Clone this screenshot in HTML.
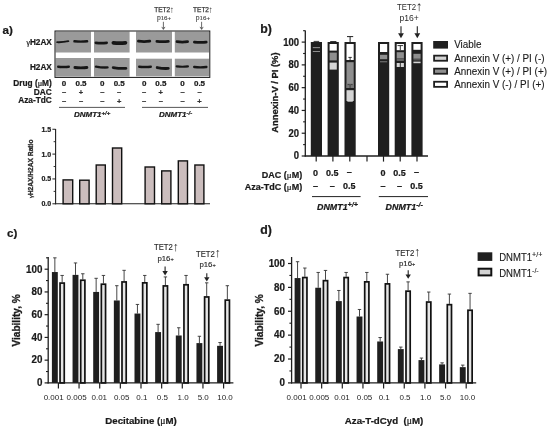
<!DOCTYPE html>
<html lang="en">
<head>
<meta charset="utf-8">
<title>Figure</title>
<style>
html,body{margin:0;padding:0;background:#ffffff;}
body{width:550px;height:431px;overflow:hidden;}
svg{display:block;font-family:"Liberation Sans","DejaVu Sans",sans-serif;}
</style>
</head>
<body>
<svg width="550" height="431" viewBox="0 0 550 431">
<defs>
<filter id="bl" filterUnits="userSpaceOnUse" x="0" y="0" width="550" height="431"><feGaussianBlur stdDeviation="0.4"/></filter>
</defs>
<rect x="0" y="0" width="550" height="431" fill="#ffffff"/>
<text x="2.50" y="34.00" font-size="11.6" font-weight="bold" font-style="normal" text-anchor="start" fill="#1a1a1a" stroke="#1a1a1a" stroke-width="0.22">a)</text>
<rect x="55.00" y="31.00" width="154.80" height="46.40" fill="#ffffff"/>
<rect x="55.60" y="31.60" width="35.40" height="20.90" fill="#9a9a9a"/>
<rect x="55.60" y="58.00" width="35.40" height="18.60" fill="#9a9a9a"/>
<rect x="94.00" y="31.60" width="35.60" height="20.90" fill="#9a9a9a"/>
<rect x="94.00" y="58.00" width="35.60" height="18.60" fill="#9a9a9a"/>
<rect x="136.00" y="31.60" width="36.00" height="20.90" fill="#9a9a9a"/>
<rect x="136.00" y="58.70" width="36.00" height="17.60" fill="#9a9a9a"/>
<rect x="174.80" y="31.60" width="34.40" height="20.90" fill="#9a9a9a"/>
<rect x="174.80" y="58.70" width="34.40" height="17.60" fill="#9a9a9a"/>
<rect x="55" y="31" width="154.8" height="46.4" fill="none" stroke="#151515" stroke-width="1.0"/>
<path d="M57.12 42.20 Q62.75 42.40 68.38 41.20" fill="none" stroke="#181818" stroke-width="1.84" stroke-linecap="round" filter="url(#bl)"/>
<path d="M74.40 41.30 Q80.75 42.00 87.10 41.30" fill="none" stroke="#181818" stroke-width="2.39" stroke-linecap="round" filter="url(#bl)"/>
<path d="M95.88 42.80 Q101.25 43.50 106.62 42.80" fill="none" stroke="#181818" stroke-width="2.76" stroke-linecap="round" filter="url(#bl)"/>
<path d="M113.34 42.80 Q119.40 43.50 125.46 42.80" fill="none" stroke="#181818" stroke-width="3.68" stroke-linecap="round" filter="url(#bl)"/>
<path d="M138.38 41.20 Q144.10 41.90 149.82 41.20" fill="none" stroke="#181818" stroke-width="2.76" stroke-linecap="round" filter="url(#bl)"/>
<path d="M156.88 41.30 Q162.60 42.00 168.32 41.30" fill="none" stroke="#181818" stroke-width="2.76" stroke-linecap="round" filter="url(#bl)"/>
<path d="M176.98 41.70 Q182.30 42.40 187.62 41.70" fill="none" stroke="#181818" stroke-width="2.76" stroke-linecap="round" filter="url(#bl)"/>
<path d="M194.38 42.10 Q200.30 42.80 206.22 42.10" fill="none" stroke="#181818" stroke-width="2.76" stroke-linecap="round" filter="url(#bl)"/>
<path d="M58.20 66.70 Q63.50 67.40 68.80 66.70" fill="none" stroke="#181818" stroke-width="2.39" stroke-linecap="round" filter="url(#bl)"/>
<path d="M74.97 67.50 Q80.90 68.20 86.83 67.50" fill="none" stroke="#181818" stroke-width="2.94" stroke-linecap="round" filter="url(#bl)"/>
<path d="M96.00 66.60 Q101.75 67.70 107.50 67.40" fill="none" stroke="#181818" stroke-width="2.39" stroke-linecap="round" filter="url(#bl)"/>
<path d="M113.18 67.60 Q119.55 68.70 125.92 68.40" fill="none" stroke="#181818" stroke-width="2.76" stroke-linecap="round" filter="url(#bl)"/>
<path d="M139.20 66.70 Q145.00 67.40 150.80 66.70" fill="none" stroke="#181818" stroke-width="2.39" stroke-linecap="round" filter="url(#bl)"/>
<path d="M157.27 67.60 Q162.75 68.70 168.23 68.40" fill="none" stroke="#181818" stroke-width="2.94" stroke-linecap="round" filter="url(#bl)"/>
<path d="M176.70 66.40 Q182.30 67.10 187.90 66.40" fill="none" stroke="#181818" stroke-width="2.21" stroke-linecap="round" filter="url(#bl)"/>
<path d="M194.20 67.00 Q200.30 67.70 206.40 67.00" fill="none" stroke="#181818" stroke-width="2.39" stroke-linecap="round" filter="url(#bl)"/>
<text x="51.80" y="44.80" font-size="8.2" font-weight="bold" font-style="normal" text-anchor="end" fill="#1a1a1a" stroke="#1a1a1a" stroke-width="0.22"><tspan font-weight="normal" font-size="7">γ</tspan>H2AX</text>
<text x="51.80" y="70.30" font-size="8.2" font-weight="bold" font-style="normal" text-anchor="end" fill="#1a1a1a" stroke="#1a1a1a" stroke-width="0.22">H2AX</text>
<text x="51.80" y="86.30" font-size="8.3" font-weight="bold" font-style="normal" text-anchor="end" fill="#1a1a1a" stroke="#1a1a1a" stroke-width="0.22">Drug (<tspan font-weight="normal" font-family="'Liberation Serif', 'DejaVu Serif', serif">μ</tspan>M)</text>
<text x="51.80" y="94.60" font-size="8.3" font-weight="bold" font-style="normal" text-anchor="end" fill="#1a1a1a" stroke="#1a1a1a" stroke-width="0.22">DAC</text>
<text x="51.80" y="103.20" font-size="8.3" font-weight="bold" font-style="normal" text-anchor="end" fill="#1a1a1a" stroke="#1a1a1a" stroke-width="0.22">Aza-TdC</text>
<text x="64.00" y="86.30" font-size="8" font-weight="bold" font-style="normal" text-anchor="middle" fill="#1a1a1a" stroke="#1a1a1a" stroke-width="0.22">0</text>
<text x="64.00" y="93.80" font-size="7.5" font-weight="bold" font-style="normal" text-anchor="middle" fill="#333" stroke="#333" stroke-width="0.22">–</text>
<text x="64.00" y="102.60" font-size="7.5" font-weight="bold" font-style="normal" text-anchor="middle" fill="#333" stroke="#333" stroke-width="0.22">–</text>
<text x="81.00" y="86.30" font-size="8" font-weight="bold" font-style="normal" text-anchor="middle" fill="#1a1a1a" stroke="#1a1a1a" stroke-width="0.22">0.5</text>
<text x="81.00" y="94.80" font-size="7.5" font-weight="bold" font-style="normal" text-anchor="middle" fill="#333" stroke="#333" stroke-width="0.22">+</text>
<text x="81.00" y="102.60" font-size="7.5" font-weight="bold" font-style="normal" text-anchor="middle" fill="#333" stroke="#333" stroke-width="0.22">–</text>
<text x="102.30" y="86.30" font-size="8" font-weight="bold" font-style="normal" text-anchor="middle" fill="#1a1a1a" stroke="#1a1a1a" stroke-width="0.22">0</text>
<text x="102.30" y="93.80" font-size="7.5" font-weight="bold" font-style="normal" text-anchor="middle" fill="#333" stroke="#333" stroke-width="0.22">–</text>
<text x="102.30" y="102.60" font-size="7.5" font-weight="bold" font-style="normal" text-anchor="middle" fill="#333" stroke="#333" stroke-width="0.22">–</text>
<text x="119.20" y="86.30" font-size="8" font-weight="bold" font-style="normal" text-anchor="middle" fill="#1a1a1a" stroke="#1a1a1a" stroke-width="0.22">0.5</text>
<text x="119.20" y="93.80" font-size="7.5" font-weight="bold" font-style="normal" text-anchor="middle" fill="#333" stroke="#333" stroke-width="0.22">–</text>
<text x="119.20" y="103.60" font-size="7.5" font-weight="bold" font-style="normal" text-anchor="middle" fill="#333" stroke="#333" stroke-width="0.22">+</text>
<text x="144.20" y="86.30" font-size="8" font-weight="bold" font-style="normal" text-anchor="middle" fill="#1a1a1a" stroke="#1a1a1a" stroke-width="0.22">0</text>
<text x="144.20" y="93.80" font-size="7.5" font-weight="bold" font-style="normal" text-anchor="middle" fill="#333" stroke="#333" stroke-width="0.22">–</text>
<text x="144.20" y="102.60" font-size="7.5" font-weight="bold" font-style="normal" text-anchor="middle" fill="#333" stroke="#333" stroke-width="0.22">–</text>
<text x="160.80" y="86.30" font-size="8" font-weight="bold" font-style="normal" text-anchor="middle" fill="#1a1a1a" stroke="#1a1a1a" stroke-width="0.22">0.5</text>
<text x="160.80" y="94.80" font-size="7.5" font-weight="bold" font-style="normal" text-anchor="middle" fill="#333" stroke="#333" stroke-width="0.22">+</text>
<text x="160.80" y="102.60" font-size="7.5" font-weight="bold" font-style="normal" text-anchor="middle" fill="#333" stroke="#333" stroke-width="0.22">–</text>
<text x="182.60" y="86.30" font-size="8" font-weight="bold" font-style="normal" text-anchor="middle" fill="#1a1a1a" stroke="#1a1a1a" stroke-width="0.22">0</text>
<text x="182.60" y="93.80" font-size="7.5" font-weight="bold" font-style="normal" text-anchor="middle" fill="#333" stroke="#333" stroke-width="0.22">–</text>
<text x="182.60" y="102.60" font-size="7.5" font-weight="bold" font-style="normal" text-anchor="middle" fill="#333" stroke="#333" stroke-width="0.22">–</text>
<text x="199.50" y="86.30" font-size="8" font-weight="bold" font-style="normal" text-anchor="middle" fill="#1a1a1a" stroke="#1a1a1a" stroke-width="0.22">0.5</text>
<text x="199.50" y="93.80" font-size="7.5" font-weight="bold" font-style="normal" text-anchor="middle" fill="#333" stroke="#333" stroke-width="0.22">–</text>
<text x="199.50" y="103.60" font-size="7.5" font-weight="bold" font-style="normal" text-anchor="middle" fill="#333" stroke="#333" stroke-width="0.22">+</text>
<line x1="59.00" y1="107.40" x2="125.00" y2="107.40" stroke="#444" stroke-width="0.9" stroke-linecap="butt"/>
<line x1="142.00" y1="107.40" x2="208.00" y2="107.40" stroke="#444" stroke-width="0.9" stroke-linecap="butt"/>
<text x="74.00" y="117.40" font-size="8" font-weight="bold" font-style="italic" text-anchor="start" fill="#1a1a1a" stroke="#1a1a1a" stroke-width="0.22">DNMT1<tspan font-size="6" dy="-2.6">+/+</tspan></text>
<text x="159.00" y="117.40" font-size="8" font-weight="bold" font-style="italic" text-anchor="start" fill="#1a1a1a" stroke="#1a1a1a" stroke-width="0.22">DNMT1<tspan font-size="6" dy="-2.6">-/-</tspan></text>
<text x="154.20" y="12.30" font-size="6.5" font-weight="normal" font-style="normal" text-anchor="start" fill="#383838" stroke="#383838" stroke-width="0.25">TET2</text>
<text x="171.80" y="13.00" font-size="9.6" font-weight="normal" font-style="normal" text-anchor="middle" fill="#383838">↑</text>
<text x="156.90" y="19.80" font-size="6.8" font-weight="normal" font-style="normal" text-anchor="start" fill="#444" stroke="#444" stroke-width="0.12">p<tspan font-family="'Liberation Serif', serif">16</tspan><tspan font-size="6.2" dy="0">+</tspan></text>
<text x="193.10" y="12.30" font-size="6.5" font-weight="normal" font-style="normal" text-anchor="start" fill="#383838" stroke="#383838" stroke-width="0.25">TET2</text>
<text x="210.70" y="13.00" font-size="9.6" font-weight="normal" font-style="normal" text-anchor="middle" fill="#383838">↑</text>
<text x="195.80" y="19.80" font-size="6.8" font-weight="normal" font-style="normal" text-anchor="start" fill="#444" stroke="#444" stroke-width="0.12">p<tspan font-family="'Liberation Serif', serif">16</tspan><tspan font-size="6.2" dy="0">+</tspan></text>
<line x1="163.40" y1="21.80" x2="163.40" y2="29.30" stroke="#444" stroke-width="0.8" stroke-linecap="butt"/>
<polyline points="161.80,26.90 163.40,29.30 165.00,26.90" fill="none" stroke="#444" stroke-width="0.8"/>
<line x1="201.60" y1="21.80" x2="201.60" y2="29.30" stroke="#444" stroke-width="0.8" stroke-linecap="butt"/>
<polyline points="200.00,26.90 201.60,29.30 203.20,26.90" fill="none" stroke="#444" stroke-width="0.8"/>
<line x1="55.60" y1="129.00" x2="55.60" y2="204.30" stroke="#1f1f1f" stroke-width="1.1" stroke-linecap="butt"/>
<line x1="55.10" y1="203.80" x2="210.00" y2="203.80" stroke="#1f1f1f" stroke-width="1.1" stroke-linecap="butt"/>
<line x1="52.40" y1="203.80" x2="55.60" y2="203.80" stroke="#1f1f1f" stroke-width="1.0" stroke-linecap="butt"/>
<text x="51.20" y="206.30" font-size="7" font-weight="bold" font-style="normal" text-anchor="end" fill="#1a1a1a" stroke="#1a1a1a" stroke-width="0.22">0.0</text>
<line x1="52.40" y1="178.95" x2="55.60" y2="178.95" stroke="#1f1f1f" stroke-width="1.0" stroke-linecap="butt"/>
<text x="51.20" y="181.45" font-size="7" font-weight="bold" font-style="normal" text-anchor="end" fill="#1a1a1a" stroke="#1a1a1a" stroke-width="0.22">0.5</text>
<line x1="52.40" y1="154.10" x2="55.60" y2="154.10" stroke="#1f1f1f" stroke-width="1.0" stroke-linecap="butt"/>
<text x="51.20" y="156.60" font-size="7" font-weight="bold" font-style="normal" text-anchor="end" fill="#1a1a1a" stroke="#1a1a1a" stroke-width="0.22">1.0</text>
<line x1="52.40" y1="129.25" x2="55.60" y2="129.25" stroke="#1f1f1f" stroke-width="1.0" stroke-linecap="butt"/>
<text x="51.20" y="131.75" font-size="7" font-weight="bold" font-style="normal" text-anchor="end" fill="#1a1a1a" stroke="#1a1a1a" stroke-width="0.22">1.5</text>
<line x1="53.60" y1="191.38" x2="55.60" y2="191.38" stroke="#1f1f1f" stroke-width="0.9" stroke-linecap="butt"/>
<line x1="53.60" y1="166.53" x2="55.60" y2="166.53" stroke="#1f1f1f" stroke-width="0.9" stroke-linecap="butt"/>
<line x1="53.60" y1="141.68" x2="55.60" y2="141.68" stroke="#1f1f1f" stroke-width="0.9" stroke-linecap="butt"/>
<rect x="63.10" y="179.90" width="9.60" height="23.90" fill="#cbbdbd" stroke="#111" stroke-width="1.4"/>
<rect x="79.70" y="180.20" width="9.40" height="23.60" fill="#cbbdbd" stroke="#111" stroke-width="1.4"/>
<rect x="96.20" y="165.00" width="9.10" height="38.80" fill="#cbbdbd" stroke="#111" stroke-width="1.4"/>
<rect x="112.50" y="148.00" width="9.20" height="55.80" fill="#cbbdbd" stroke="#111" stroke-width="1.4"/>
<rect x="145.10" y="167.00" width="9.40" height="36.80" fill="#cbbdbd" stroke="#111" stroke-width="1.4"/>
<rect x="161.70" y="170.90" width="9.20" height="32.90" fill="#cbbdbd" stroke="#111" stroke-width="1.4"/>
<rect x="178.30" y="160.90" width="9.20" height="42.90" fill="#cbbdbd" stroke="#111" stroke-width="1.4"/>
<rect x="194.90" y="165.00" width="9.00" height="38.80" fill="#cbbdbd" stroke="#111" stroke-width="1.4"/>
<text transform="translate(32.50,168.80) rotate(-90)" font-size="6.6" font-weight="bold" text-anchor="middle" fill="#2a2a2a" textLength="58.5" lengthAdjust="spacingAndGlyphs" stroke="#2a2a2a" stroke-width="0.3"><tspan font-size="5.5" font-weight="normal">γ</tspan>H2AX/H2AX Ratio</text>
<text x="260.30" y="33.40" font-size="12.3" font-weight="bold" font-style="normal" text-anchor="start" fill="#1a1a1a" stroke="#1a1a1a" stroke-width="0.22">b)</text>
<line x1="305.30" y1="30.40" x2="305.30" y2="156.60" stroke="#1f1f1f" stroke-width="1.3" stroke-linecap="butt"/>
<line x1="304.70" y1="156.00" x2="428.00" y2="156.00" stroke="#1f1f1f" stroke-width="1.3" stroke-linecap="butt"/>
<line x1="301.70" y1="156.00" x2="305.30" y2="156.00" stroke="#1f1f1f" stroke-width="1.2" stroke-linecap="butt"/>
<text transform="translate(299.10,159.40) scale(0.95,1)" font-size="10.0" font-weight="bold" font-style="normal" text-anchor="end" fill="#1a1a1a" stroke="#1a1a1a" stroke-width="0.22">0</text>
<line x1="301.70" y1="133.22" x2="305.30" y2="133.22" stroke="#1f1f1f" stroke-width="1.2" stroke-linecap="butt"/>
<text transform="translate(299.10,136.62) scale(0.95,1)" font-size="10.0" font-weight="bold" font-style="normal" text-anchor="end" fill="#1a1a1a" stroke="#1a1a1a" stroke-width="0.22">20</text>
<line x1="301.70" y1="110.44" x2="305.30" y2="110.44" stroke="#1f1f1f" stroke-width="1.2" stroke-linecap="butt"/>
<text transform="translate(299.10,113.84) scale(0.95,1)" font-size="10.0" font-weight="bold" font-style="normal" text-anchor="end" fill="#1a1a1a" stroke="#1a1a1a" stroke-width="0.22">40</text>
<line x1="301.70" y1="87.66" x2="305.30" y2="87.66" stroke="#1f1f1f" stroke-width="1.2" stroke-linecap="butt"/>
<text transform="translate(299.10,91.06) scale(0.95,1)" font-size="10.0" font-weight="bold" font-style="normal" text-anchor="end" fill="#1a1a1a" stroke="#1a1a1a" stroke-width="0.22">60</text>
<line x1="301.70" y1="64.88" x2="305.30" y2="64.88" stroke="#1f1f1f" stroke-width="1.2" stroke-linecap="butt"/>
<text transform="translate(299.10,68.28) scale(0.95,1)" font-size="10.0" font-weight="bold" font-style="normal" text-anchor="end" fill="#1a1a1a" stroke="#1a1a1a" stroke-width="0.22">80</text>
<line x1="301.70" y1="42.10" x2="305.30" y2="42.10" stroke="#1f1f1f" stroke-width="1.2" stroke-linecap="butt"/>
<text transform="translate(299.10,45.50) scale(0.95,1)" font-size="10.0" font-weight="bold" font-style="normal" text-anchor="end" fill="#1a1a1a" stroke="#1a1a1a" stroke-width="0.22">100</text>
<line x1="303.10" y1="144.61" x2="305.30" y2="144.61" stroke="#1f1f1f" stroke-width="1.1" stroke-linecap="butt"/>
<line x1="303.10" y1="121.83" x2="305.30" y2="121.83" stroke="#1f1f1f" stroke-width="1.1" stroke-linecap="butt"/>
<line x1="303.10" y1="99.05" x2="305.30" y2="99.05" stroke="#1f1f1f" stroke-width="1.1" stroke-linecap="butt"/>
<line x1="303.10" y1="76.27" x2="305.30" y2="76.27" stroke="#1f1f1f" stroke-width="1.1" stroke-linecap="butt"/>
<line x1="303.10" y1="53.49" x2="305.30" y2="53.49" stroke="#1f1f1f" stroke-width="1.1" stroke-linecap="butt"/>
<line x1="303.10" y1="30.71" x2="305.30" y2="30.71" stroke="#1f1f1f" stroke-width="1.1" stroke-linecap="butt"/>
<line x1="316.20" y1="156.00" x2="316.20" y2="161.60" stroke="#1f1f1f" stroke-width="1.2" stroke-linecap="butt"/>
<line x1="332.90" y1="156.00" x2="332.90" y2="161.60" stroke="#1f1f1f" stroke-width="1.2" stroke-linecap="butt"/>
<line x1="349.80" y1="156.00" x2="349.80" y2="161.60" stroke="#1f1f1f" stroke-width="1.2" stroke-linecap="butt"/>
<line x1="367.00" y1="156.00" x2="367.00" y2="161.60" stroke="#1f1f1f" stroke-width="1.2" stroke-linecap="butt"/>
<line x1="383.50" y1="156.00" x2="383.50" y2="161.60" stroke="#1f1f1f" stroke-width="1.2" stroke-linecap="butt"/>
<line x1="400.20" y1="156.00" x2="400.20" y2="161.60" stroke="#1f1f1f" stroke-width="1.2" stroke-linecap="butt"/>
<line x1="417.00" y1="156.00" x2="417.00" y2="161.60" stroke="#1f1f1f" stroke-width="1.2" stroke-linecap="butt"/>
<text transform="translate(277.90,92.60) rotate(-90)" font-size="9.4" font-weight="bold" text-anchor="middle" fill="#1a1a1a" stroke="#1a1a1a" stroke-width="0.3">Annexin-V / PI (%)</text>
<rect x="310.80" y="42.00" width="11.20" height="114.00" fill="#1f1f1f"/>
<rect x="312.80" y="47.40" width="7.20" height="0.70" fill="#c8c8c8"/>
<rect x="312.80" y="51.00" width="7.20" height="0.70" fill="#bdbdbd"/>
<line x1="313.60" y1="41.40" x2="319.20" y2="41.40" stroke="#1f1f1f" stroke-width="0.9" stroke-linecap="butt"/>
<line x1="330.20" y1="41.50" x2="336.40" y2="41.50" stroke="#1f1f1f" stroke-width="0.9" stroke-linecap="butt"/>
<rect x="327.60" y="42.00" width="11.20" height="114.00" fill="#1f1f1f"/>
<rect x="329.60" y="44.00" width="7.20" height="6.60" fill="#ffffff"/>
<rect x="329.60" y="52.60" width="7.20" height="7.80" fill="#8f8f8f"/>
<rect x="329.60" y="62.60" width="7.20" height="7.00" fill="#d4d4d4"/>
<rect x="344.50" y="42.00" width="11.20" height="114.00" fill="#1f1f1f"/>
<rect x="346.50" y="44.00" width="7.20" height="16.00" fill="#ffffff"/>
<rect x="346.50" y="62.20" width="7.20" height="25.80" fill="#8f8f8f"/>
<rect x="346.50" y="83.60" width="7.20" height="4.40" fill="#777"/>
<rect x="346.50" y="90.20" width="7.20" height="10.80" fill="#d4d4d4"/>
<line x1="350.10" y1="36.60" x2="350.10" y2="42.00" stroke="#1f1f1f" stroke-width="1.0" stroke-linecap="butt"/>
<line x1="347.00" y1="36.60" x2="353.20" y2="36.60" stroke="#1f1f1f" stroke-width="1.0" stroke-linecap="butt"/>
<line x1="348.40" y1="57.40" x2="351.80" y2="57.40" stroke="#1f1f1f" stroke-width="0.9" stroke-linecap="butt"/>
<line x1="350.10" y1="57.40" x2="350.10" y2="60.00" stroke="#1f1f1f" stroke-width="0.9" stroke-linecap="butt"/>
<line x1="347.60" y1="84.60" x2="349.60" y2="84.60" stroke="#333" stroke-width="0.8" stroke-linecap="butt"/>
<line x1="350.60" y1="84.60" x2="352.60" y2="84.60" stroke="#333" stroke-width="0.8" stroke-linecap="butt"/>
<line x1="350.10" y1="84.60" x2="350.10" y2="88.00" stroke="#333" stroke-width="0.8" stroke-linecap="butt"/>
<line x1="347.40" y1="101.40" x2="352.80" y2="101.40" stroke="#eee" stroke-width="0.7" stroke-linecap="butt"/>
<rect x="378.00" y="42.00" width="11.20" height="114.00" fill="#1f1f1f"/>
<rect x="380.00" y="44.00" width="7.20" height="8.00" fill="#ffffff"/>
<rect x="380.00" y="54.80" width="7.20" height="4.40" fill="#8f8f8f"/>
<rect x="380.00" y="61.50" width="7.20" height="0.70" fill="#aaa"/>
<rect x="394.70" y="42.00" width="11.20" height="114.00" fill="#1f1f1f"/>
<rect x="396.70" y="44.00" width="7.20" height="6.20" fill="#ffffff"/>
<rect x="396.70" y="52.20" width="7.20" height="6.20" fill="#8f8f8f"/>
<rect x="396.70" y="58.40" width="7.20" height="2.60" fill="#666"/>
<rect x="396.70" y="63.00" width="7.20" height="4.00" fill="#d4d4d4"/>
<line x1="397.50" y1="45.60" x2="403.00" y2="45.60" stroke="#1f1f1f" stroke-width="0.9" stroke-linecap="butt"/>
<line x1="400.30" y1="45.60" x2="400.30" y2="50.20" stroke="#1f1f1f" stroke-width="0.9" stroke-linecap="butt"/>
<line x1="400.30" y1="63.00" x2="400.30" y2="67.20" stroke="#1f1f1f" stroke-width="0.9" stroke-linecap="butt"/>
<rect x="411.40" y="42.00" width="11.20" height="114.00" fill="#1f1f1f"/>
<rect x="413.40" y="44.00" width="7.20" height="5.80" fill="#ffffff"/>
<rect x="413.40" y="53.80" width="7.20" height="5.00" fill="#8f8f8f"/>
<rect x="413.40" y="58.80" width="7.20" height="1.80" fill="#555"/>
<rect x="413.40" y="61.60" width="7.20" height="1.60" fill="#d4d4d4"/>
<text x="302.20" y="177.60" font-size="9" font-weight="bold" font-style="normal" text-anchor="end" fill="#1a1a1a" stroke="#1a1a1a" stroke-width="0.22">DAC (<tspan font-weight="normal" font-family="'Liberation Serif', 'DejaVu Serif', serif">μ</tspan>M)</text>
<text x="302.20" y="189.50" font-size="9" font-weight="bold" font-style="normal" text-anchor="end" fill="#1a1a1a" stroke="#1a1a1a" stroke-width="0.22">Aza-TdC (<tspan font-weight="normal" font-family="'Liberation Serif', 'DejaVu Serif', serif">μ</tspan>M)</text>
<text x="315.60" y="176.00" font-size="9" font-weight="bold" font-style="normal" text-anchor="middle" fill="#1a1a1a" stroke="#1a1a1a" stroke-width="0.22">0</text>
<text x="315.60" y="188.60" font-size="9" font-weight="bold" font-style="normal" text-anchor="middle" fill="#1a1a1a" stroke="#1a1a1a" stroke-width="0.22">–</text>
<text x="332.30" y="176.00" font-size="9" font-weight="bold" font-style="normal" text-anchor="middle" fill="#1a1a1a" stroke="#1a1a1a" stroke-width="0.22">0.5</text>
<text x="332.30" y="188.60" font-size="9" font-weight="bold" font-style="normal" text-anchor="middle" fill="#1a1a1a" stroke="#1a1a1a" stroke-width="0.22">–</text>
<text x="349.20" y="175.10" font-size="9" font-weight="bold" font-style="normal" text-anchor="middle" fill="#1a1a1a" stroke="#1a1a1a" stroke-width="0.22">–</text>
<text x="349.20" y="189.20" font-size="9" font-weight="bold" font-style="normal" text-anchor="middle" fill="#1a1a1a" stroke="#1a1a1a" stroke-width="0.22">0.5</text>
<text x="382.90" y="176.00" font-size="9" font-weight="bold" font-style="normal" text-anchor="middle" fill="#1a1a1a" stroke="#1a1a1a" stroke-width="0.22">0</text>
<text x="382.90" y="188.60" font-size="9" font-weight="bold" font-style="normal" text-anchor="middle" fill="#1a1a1a" stroke="#1a1a1a" stroke-width="0.22">–</text>
<text x="399.60" y="176.00" font-size="9" font-weight="bold" font-style="normal" text-anchor="middle" fill="#1a1a1a" stroke="#1a1a1a" stroke-width="0.22">0.5</text>
<text x="399.60" y="188.60" font-size="9" font-weight="bold" font-style="normal" text-anchor="middle" fill="#1a1a1a" stroke="#1a1a1a" stroke-width="0.22">–</text>
<text x="416.40" y="175.10" font-size="9" font-weight="bold" font-style="normal" text-anchor="middle" fill="#1a1a1a" stroke="#1a1a1a" stroke-width="0.22">–</text>
<text x="416.40" y="189.20" font-size="9" font-weight="bold" font-style="normal" text-anchor="middle" fill="#1a1a1a" stroke="#1a1a1a" stroke-width="0.22">0.5</text>
<line x1="312.00" y1="196.60" x2="360.60" y2="196.60" stroke="#222" stroke-width="1.0" stroke-linecap="butt"/>
<line x1="378.80" y1="196.60" x2="428.00" y2="196.60" stroke="#222" stroke-width="1.0" stroke-linecap="butt"/>
<text x="317.00" y="209.80" font-size="8.9" font-weight="bold" font-style="italic" text-anchor="start" fill="#1a1a1a" stroke="#1a1a1a" stroke-width="0.22">DNMT1<tspan font-size="7.2" dy="-3">+/+</tspan></text>
<text x="385.60" y="209.80" font-size="8.9" font-weight="bold" font-style="italic" text-anchor="start" fill="#1a1a1a" stroke="#1a1a1a" stroke-width="0.22">DNMT1<tspan font-size="7.2" dy="-3">-/-</tspan></text>
<text x="397.00" y="10.30" font-size="9.4" font-weight="normal" font-style="normal" text-anchor="start" fill="#2c2c2c" textLength="19.1" lengthAdjust="spacingAndGlyphs">TET2</text>
<text x="419.10" y="11.20" font-size="13.5" font-weight="normal" font-style="normal" text-anchor="middle" fill="#2c2c2c">↑</text>
<text x="409.20" y="20.80" font-size="8.6" font-weight="normal" font-style="normal" text-anchor="middle" fill="#2c2c2c">p16+</text>
<line x1="401.00" y1="26.20" x2="401.00" y2="33.70" stroke="#222" stroke-width="1.1" stroke-linecap="butt"/>
<polygon points="398.10,33.20 403.90,33.20 401.00,38.20" fill="#222"/>
<line x1="417.30" y1="26.20" x2="417.30" y2="33.70" stroke="#222" stroke-width="1.1" stroke-linecap="butt"/>
<polygon points="414.40,33.20 420.20,33.20 417.30,38.20" fill="#222"/>
<rect x="433.20" y="41.00" width="14.80" height="7.60" fill="#1f1f1f"/>
<rect x="434.10" y="55.65" width="13.00" height="5.10" fill="#d4d4d4" stroke="#1f1f1f" stroke-width="1.8"/>
<rect x="434.10" y="68.65" width="13.00" height="5.10" fill="#8f8f8f" stroke="#1f1f1f" stroke-width="1.8"/>
<rect x="434.10" y="81.75" width="13.00" height="5.10" fill="#ffffff" stroke="#1f1f1f" stroke-width="1.8"/>
<text transform="translate(454.20,48.40) scale(0.915,1)" font-size="10.8" font-weight="normal" font-style="normal" text-anchor="start" fill="#1a1a1a" stroke="#1a1a1a" stroke-width="0.12">Viable</text>
<text transform="translate(454.20,61.60) scale(0.915,1)" font-size="10.8" font-weight="normal" font-style="normal" text-anchor="start" fill="#1a1a1a" stroke="#1a1a1a" stroke-width="0.12">Annexin V (+) / PI (-)</text>
<text transform="translate(454.20,74.60) scale(0.915,1)" font-size="10.8" font-weight="normal" font-style="normal" text-anchor="start" fill="#1a1a1a" stroke="#1a1a1a" stroke-width="0.12">Annexin V (+) / PI (+)</text>
<text transform="translate(454.20,87.60) scale(0.915,1)" font-size="10.8" font-weight="normal" font-style="normal" text-anchor="start" fill="#1a1a1a" stroke="#1a1a1a" stroke-width="0.12">Annexin V (-) / PI (+)</text>
<text x="7.00" y="237.00" font-size="11.6" font-weight="bold" font-style="normal" text-anchor="start" fill="#1a1a1a" stroke="#1a1a1a" stroke-width="0.22">c)</text>
<line x1="48.20" y1="257.00" x2="48.20" y2="383.50" stroke="#1f1f1f" stroke-width="1.3" stroke-linecap="butt"/>
<line x1="47.60" y1="382.90" x2="233.40" y2="382.90" stroke="#1f1f1f" stroke-width="1.3" stroke-linecap="butt"/>
<line x1="44.60" y1="382.90" x2="48.20" y2="382.90" stroke="#1f1f1f" stroke-width="1.2" stroke-linecap="butt"/>
<text transform="translate(42.40,386.20) scale(0.98,1)" font-size="10.0" font-weight="bold" font-style="normal" text-anchor="end" fill="#1a1a1a" stroke="#1a1a1a" stroke-width="0.22">0</text>
<line x1="44.60" y1="360.16" x2="48.20" y2="360.16" stroke="#1f1f1f" stroke-width="1.2" stroke-linecap="butt"/>
<text transform="translate(42.40,363.46) scale(0.98,1)" font-size="10.0" font-weight="bold" font-style="normal" text-anchor="end" fill="#1a1a1a" stroke="#1a1a1a" stroke-width="0.22">20</text>
<line x1="44.60" y1="337.42" x2="48.20" y2="337.42" stroke="#1f1f1f" stroke-width="1.2" stroke-linecap="butt"/>
<text transform="translate(42.40,340.72) scale(0.98,1)" font-size="10.0" font-weight="bold" font-style="normal" text-anchor="end" fill="#1a1a1a" stroke="#1a1a1a" stroke-width="0.22">40</text>
<line x1="44.60" y1="314.68" x2="48.20" y2="314.68" stroke="#1f1f1f" stroke-width="1.2" stroke-linecap="butt"/>
<text transform="translate(42.40,317.98) scale(0.98,1)" font-size="10.0" font-weight="bold" font-style="normal" text-anchor="end" fill="#1a1a1a" stroke="#1a1a1a" stroke-width="0.22">60</text>
<line x1="44.60" y1="291.94" x2="48.20" y2="291.94" stroke="#1f1f1f" stroke-width="1.2" stroke-linecap="butt"/>
<text transform="translate(42.40,295.24) scale(0.98,1)" font-size="10.0" font-weight="bold" font-style="normal" text-anchor="end" fill="#1a1a1a" stroke="#1a1a1a" stroke-width="0.22">80</text>
<line x1="44.60" y1="269.20" x2="48.20" y2="269.20" stroke="#1f1f1f" stroke-width="1.2" stroke-linecap="butt"/>
<text transform="translate(42.40,272.50) scale(0.98,1)" font-size="10.0" font-weight="bold" font-style="normal" text-anchor="end" fill="#1a1a1a" stroke="#1a1a1a" stroke-width="0.22">100</text>
<line x1="46.00" y1="371.53" x2="48.20" y2="371.53" stroke="#1f1f1f" stroke-width="1.1" stroke-linecap="butt"/>
<line x1="46.00" y1="348.79" x2="48.20" y2="348.79" stroke="#1f1f1f" stroke-width="1.1" stroke-linecap="butt"/>
<line x1="46.00" y1="326.05" x2="48.20" y2="326.05" stroke="#1f1f1f" stroke-width="1.1" stroke-linecap="butt"/>
<line x1="46.00" y1="303.31" x2="48.20" y2="303.31" stroke="#1f1f1f" stroke-width="1.1" stroke-linecap="butt"/>
<line x1="46.00" y1="280.57" x2="48.20" y2="280.57" stroke="#1f1f1f" stroke-width="1.1" stroke-linecap="butt"/>
<line x1="46.00" y1="257.83" x2="48.20" y2="257.83" stroke="#1f1f1f" stroke-width="1.1" stroke-linecap="butt"/>
<line x1="54.85" y1="257.83" x2="54.85" y2="272.04" stroke="#333" stroke-width="0.9" stroke-linecap="butt"/>
<line x1="53.15" y1="257.83" x2="56.55" y2="257.83" stroke="#333" stroke-width="0.9" stroke-linecap="butt"/>
<rect x="51.90" y="272.04" width="5.90" height="110.86" fill="#1f1f1f"/>
<line x1="62.15" y1="275.45" x2="62.15" y2="282.28" stroke="#333" stroke-width="0.9" stroke-linecap="butt"/>
<line x1="60.45" y1="275.45" x2="63.85" y2="275.45" stroke="#333" stroke-width="0.9" stroke-linecap="butt"/>
<rect x="60.05" y="283.08" width="4.20" height="99.82" fill="#e6e6e6" stroke="#111" stroke-width="1.7"/>
<line x1="58.40" y1="382.90" x2="58.40" y2="388.50" stroke="#1f1f1f" stroke-width="1.2" stroke-linecap="butt"/>
<text x="53.70" y="400.40" font-size="8.0" font-weight="normal" font-style="normal" text-anchor="middle" fill="#262626">0.001</text>
<line x1="75.50" y1="262.95" x2="75.50" y2="274.88" stroke="#333" stroke-width="0.9" stroke-linecap="butt"/>
<line x1="73.80" y1="262.95" x2="77.20" y2="262.95" stroke="#333" stroke-width="0.9" stroke-linecap="butt"/>
<rect x="72.55" y="274.88" width="5.90" height="108.01" fill="#1f1f1f"/>
<line x1="82.80" y1="273.75" x2="82.80" y2="279.43" stroke="#333" stroke-width="0.9" stroke-linecap="butt"/>
<line x1="81.10" y1="273.75" x2="84.50" y2="273.75" stroke="#333" stroke-width="0.9" stroke-linecap="butt"/>
<rect x="80.70" y="280.23" width="4.20" height="102.67" fill="#e6e6e6" stroke="#111" stroke-width="1.7"/>
<line x1="79.05" y1="382.90" x2="79.05" y2="388.50" stroke="#1f1f1f" stroke-width="1.2" stroke-linecap="butt"/>
<text x="76.60" y="400.40" font-size="8.0" font-weight="normal" font-style="normal" text-anchor="middle" fill="#262626">0.005</text>
<line x1="96.15" y1="278.30" x2="96.15" y2="291.94" stroke="#333" stroke-width="0.9" stroke-linecap="butt"/>
<line x1="94.45" y1="278.30" x2="97.85" y2="278.30" stroke="#333" stroke-width="0.9" stroke-linecap="butt"/>
<rect x="93.20" y="291.94" width="5.90" height="90.96" fill="#1f1f1f"/>
<line x1="103.45" y1="275.45" x2="103.45" y2="283.41" stroke="#333" stroke-width="0.9" stroke-linecap="butt"/>
<line x1="101.75" y1="275.45" x2="105.15" y2="275.45" stroke="#333" stroke-width="0.9" stroke-linecap="butt"/>
<rect x="101.35" y="284.21" width="4.20" height="98.69" fill="#e6e6e6" stroke="#111" stroke-width="1.7"/>
<line x1="99.70" y1="382.90" x2="99.70" y2="388.50" stroke="#1f1f1f" stroke-width="1.2" stroke-linecap="butt"/>
<text x="99.30" y="400.40" font-size="8.0" font-weight="normal" font-style="normal" text-anchor="middle" fill="#262626">0.01</text>
<line x1="116.80" y1="285.69" x2="116.80" y2="300.47" stroke="#333" stroke-width="0.9" stroke-linecap="butt"/>
<line x1="115.10" y1="285.69" x2="118.50" y2="285.69" stroke="#333" stroke-width="0.9" stroke-linecap="butt"/>
<rect x="113.85" y="300.47" width="5.90" height="82.43" fill="#1f1f1f"/>
<line x1="124.10" y1="270.34" x2="124.10" y2="281.14" stroke="#333" stroke-width="0.9" stroke-linecap="butt"/>
<line x1="122.40" y1="270.34" x2="125.80" y2="270.34" stroke="#333" stroke-width="0.9" stroke-linecap="butt"/>
<rect x="122.00" y="281.94" width="4.20" height="100.96" fill="#e6e6e6" stroke="#111" stroke-width="1.7"/>
<line x1="120.35" y1="382.90" x2="120.35" y2="388.50" stroke="#1f1f1f" stroke-width="1.2" stroke-linecap="butt"/>
<text x="121.70" y="400.40" font-size="8.0" font-weight="normal" font-style="normal" text-anchor="middle" fill="#262626">0.05</text>
<line x1="137.45" y1="304.45" x2="137.45" y2="313.54" stroke="#333" stroke-width="0.9" stroke-linecap="butt"/>
<line x1="135.75" y1="304.45" x2="139.15" y2="304.45" stroke="#333" stroke-width="0.9" stroke-linecap="butt"/>
<rect x="134.50" y="313.54" width="5.90" height="69.36" fill="#1f1f1f"/>
<line x1="144.75" y1="275.45" x2="144.75" y2="282.05" stroke="#333" stroke-width="0.9" stroke-linecap="butt"/>
<line x1="143.05" y1="275.45" x2="146.45" y2="275.45" stroke="#333" stroke-width="0.9" stroke-linecap="butt"/>
<rect x="142.65" y="282.85" width="4.20" height="100.05" fill="#e6e6e6" stroke="#111" stroke-width="1.7"/>
<line x1="141.00" y1="382.90" x2="141.00" y2="388.50" stroke="#1f1f1f" stroke-width="1.2" stroke-linecap="butt"/>
<text x="141.90" y="400.40" font-size="8.0" font-weight="normal" font-style="normal" text-anchor="middle" fill="#262626">0.1</text>
<line x1="158.10" y1="324.34" x2="158.10" y2="332.08" stroke="#333" stroke-width="0.9" stroke-linecap="butt"/>
<line x1="156.40" y1="324.34" x2="159.80" y2="324.34" stroke="#333" stroke-width="0.9" stroke-linecap="butt"/>
<rect x="155.15" y="332.08" width="5.90" height="50.82" fill="#1f1f1f"/>
<line x1="165.40" y1="276.93" x2="165.40" y2="285.12" stroke="#333" stroke-width="0.9" stroke-linecap="butt"/>
<line x1="163.70" y1="276.93" x2="167.10" y2="276.93" stroke="#333" stroke-width="0.9" stroke-linecap="butt"/>
<rect x="163.30" y="285.92" width="4.20" height="96.98" fill="#e6e6e6" stroke="#111" stroke-width="1.7"/>
<line x1="161.65" y1="382.90" x2="161.65" y2="388.50" stroke="#1f1f1f" stroke-width="1.2" stroke-linecap="butt"/>
<text x="162.40" y="400.40" font-size="8.0" font-weight="normal" font-style="normal" text-anchor="middle" fill="#262626">0.5</text>
<line x1="178.75" y1="327.76" x2="178.75" y2="335.49" stroke="#333" stroke-width="0.9" stroke-linecap="butt"/>
<line x1="177.05" y1="327.76" x2="180.45" y2="327.76" stroke="#333" stroke-width="0.9" stroke-linecap="butt"/>
<rect x="175.80" y="335.49" width="5.90" height="47.41" fill="#1f1f1f"/>
<line x1="186.05" y1="275.45" x2="186.05" y2="283.98" stroke="#333" stroke-width="0.9" stroke-linecap="butt"/>
<line x1="184.35" y1="275.45" x2="187.75" y2="275.45" stroke="#333" stroke-width="0.9" stroke-linecap="butt"/>
<rect x="183.95" y="284.78" width="4.20" height="98.12" fill="#e6e6e6" stroke="#111" stroke-width="1.7"/>
<line x1="182.30" y1="382.90" x2="182.30" y2="388.50" stroke="#1f1f1f" stroke-width="1.2" stroke-linecap="butt"/>
<text x="183.10" y="400.40" font-size="8.0" font-weight="normal" font-style="normal" text-anchor="middle" fill="#262626">1.0</text>
<line x1="199.40" y1="336.28" x2="199.40" y2="343.10" stroke="#333" stroke-width="0.9" stroke-linecap="butt"/>
<line x1="197.70" y1="336.28" x2="201.10" y2="336.28" stroke="#333" stroke-width="0.9" stroke-linecap="butt"/>
<rect x="196.45" y="343.10" width="5.90" height="39.80" fill="#1f1f1f"/>
<line x1="206.70" y1="282.84" x2="206.70" y2="296.15" stroke="#333" stroke-width="0.9" stroke-linecap="butt"/>
<line x1="205.00" y1="282.84" x2="208.40" y2="282.84" stroke="#333" stroke-width="0.9" stroke-linecap="butt"/>
<rect x="204.60" y="296.95" width="4.20" height="85.95" fill="#e6e6e6" stroke="#111" stroke-width="1.7"/>
<line x1="202.95" y1="382.90" x2="202.95" y2="388.50" stroke="#1f1f1f" stroke-width="1.2" stroke-linecap="butt"/>
<text x="203.20" y="400.40" font-size="8.0" font-weight="normal" font-style="normal" text-anchor="middle" fill="#262626">5.0</text>
<line x1="220.05" y1="342.54" x2="220.05" y2="345.83" stroke="#333" stroke-width="0.9" stroke-linecap="butt"/>
<line x1="218.35" y1="342.54" x2="221.75" y2="342.54" stroke="#333" stroke-width="0.9" stroke-linecap="butt"/>
<rect x="217.10" y="345.83" width="5.90" height="37.07" fill="#1f1f1f"/>
<line x1="227.35" y1="285.69" x2="227.35" y2="299.33" stroke="#333" stroke-width="0.9" stroke-linecap="butt"/>
<line x1="225.65" y1="285.69" x2="229.05" y2="285.69" stroke="#333" stroke-width="0.9" stroke-linecap="butt"/>
<rect x="225.25" y="300.13" width="4.20" height="82.77" fill="#e6e6e6" stroke="#111" stroke-width="1.7"/>
<line x1="223.60" y1="382.90" x2="223.60" y2="388.50" stroke="#1f1f1f" stroke-width="1.2" stroke-linecap="butt"/>
<text x="225.00" y="400.40" font-size="8.0" font-weight="normal" font-style="normal" text-anchor="middle" fill="#262626">10.0</text>
<text transform="translate(20.40,320.40) rotate(-90)" font-size="10.1" font-weight="bold" text-anchor="middle" fill="#1a1a1a" stroke="#1a1a1a" stroke-width="0.3">Viability, %</text>
<text x="141.00" y="424.00" font-size="9.7" font-weight="bold" font-style="normal" text-anchor="middle" fill="#1a1a1a" stroke="#1a1a1a" stroke-width="0.22">Decitabine (<tspan font-weight="normal" font-family="'Liberation Serif', 'DejaVu Serif', serif">μ</tspan>M)</text>
<text x="154.00" y="250.40" font-size="8.3" font-weight="normal" font-style="normal" text-anchor="start" fill="#2a2a2a" textLength="18.8" lengthAdjust="spacingAndGlyphs" stroke="#2a2a2a" stroke-width="0.15">TET2</text>
<text x="172.50" y="251.30" font-size="12.5" font-weight="normal" font-style="normal" text-anchor="start" fill="#2a2a2a">↑</text>
<text x="157.40" y="261.20" font-size="7.8" font-weight="normal" font-style="normal" text-anchor="start" fill="#2a2a2a" stroke="#2a2a2a" stroke-width="0.15">p16<tspan font-size="5.6" dy="-0.6">+</tspan></text>
<line x1="165.10" y1="266.60" x2="165.10" y2="271.50" stroke="#222" stroke-width="1.1" stroke-linecap="butt"/>
<polygon points="162.40,271.00 167.80,271.00 165.10,275.40" fill="#222"/>
<text x="196.00" y="256.50" font-size="8.3" font-weight="normal" font-style="normal" text-anchor="start" fill="#2a2a2a" textLength="18.8" lengthAdjust="spacingAndGlyphs" stroke="#2a2a2a" stroke-width="0.15">TET2</text>
<text x="214.50" y="257.40" font-size="12.5" font-weight="normal" font-style="normal" text-anchor="start" fill="#2a2a2a">↑</text>
<text x="199.40" y="267.40" font-size="7.8" font-weight="normal" font-style="normal" text-anchor="start" fill="#2a2a2a" stroke="#2a2a2a" stroke-width="0.15">p16<tspan font-size="5.6" dy="-0.6">+</tspan></text>
<line x1="206.80" y1="273.20" x2="206.80" y2="277.70" stroke="#222" stroke-width="1.1" stroke-linecap="butt"/>
<polygon points="204.10,277.20 209.50,277.20 206.80,281.60" fill="#222"/>
<text x="260.30" y="233.80" font-size="12.3" font-weight="bold" font-style="normal" text-anchor="start" fill="#1a1a1a" stroke="#1a1a1a" stroke-width="0.22">d)</text>
<line x1="291.60" y1="257.00" x2="291.60" y2="383.50" stroke="#1f1f1f" stroke-width="1.3" stroke-linecap="butt"/>
<line x1="291.00" y1="382.90" x2="476.20" y2="382.90" stroke="#1f1f1f" stroke-width="1.3" stroke-linecap="butt"/>
<line x1="288.00" y1="382.90" x2="291.60" y2="382.90" stroke="#1f1f1f" stroke-width="1.2" stroke-linecap="butt"/>
<text transform="translate(285.00,386.20) scale(0.98,1)" font-size="10.0" font-weight="bold" font-style="normal" text-anchor="end" fill="#1a1a1a" stroke="#1a1a1a" stroke-width="0.22">0</text>
<line x1="288.00" y1="359.02" x2="291.60" y2="359.02" stroke="#1f1f1f" stroke-width="1.2" stroke-linecap="butt"/>
<text transform="translate(285.00,362.32) scale(0.98,1)" font-size="10.0" font-weight="bold" font-style="normal" text-anchor="end" fill="#1a1a1a" stroke="#1a1a1a" stroke-width="0.22">20</text>
<line x1="288.00" y1="335.14" x2="291.60" y2="335.14" stroke="#1f1f1f" stroke-width="1.2" stroke-linecap="butt"/>
<text transform="translate(285.00,338.44) scale(0.98,1)" font-size="10.0" font-weight="bold" font-style="normal" text-anchor="end" fill="#1a1a1a" stroke="#1a1a1a" stroke-width="0.22">40</text>
<line x1="288.00" y1="311.26" x2="291.60" y2="311.26" stroke="#1f1f1f" stroke-width="1.2" stroke-linecap="butt"/>
<text transform="translate(285.00,314.56) scale(0.98,1)" font-size="10.0" font-weight="bold" font-style="normal" text-anchor="end" fill="#1a1a1a" stroke="#1a1a1a" stroke-width="0.22">60</text>
<line x1="288.00" y1="287.38" x2="291.60" y2="287.38" stroke="#1f1f1f" stroke-width="1.2" stroke-linecap="butt"/>
<text transform="translate(285.00,290.68) scale(0.98,1)" font-size="10.0" font-weight="bold" font-style="normal" text-anchor="end" fill="#1a1a1a" stroke="#1a1a1a" stroke-width="0.22">80</text>
<line x1="288.00" y1="263.50" x2="291.60" y2="263.50" stroke="#1f1f1f" stroke-width="1.2" stroke-linecap="butt"/>
<text transform="translate(285.00,266.80) scale(0.98,1)" font-size="10.0" font-weight="bold" font-style="normal" text-anchor="end" fill="#1a1a1a" stroke="#1a1a1a" stroke-width="0.22">100</text>
<line x1="289.40" y1="370.96" x2="291.60" y2="370.96" stroke="#1f1f1f" stroke-width="1.1" stroke-linecap="butt"/>
<line x1="289.40" y1="347.08" x2="291.60" y2="347.08" stroke="#1f1f1f" stroke-width="1.1" stroke-linecap="butt"/>
<line x1="289.40" y1="323.20" x2="291.60" y2="323.20" stroke="#1f1f1f" stroke-width="1.1" stroke-linecap="butt"/>
<line x1="289.40" y1="299.32" x2="291.60" y2="299.32" stroke="#1f1f1f" stroke-width="1.1" stroke-linecap="butt"/>
<line x1="289.40" y1="275.44" x2="291.60" y2="275.44" stroke="#1f1f1f" stroke-width="1.1" stroke-linecap="butt"/>
<line x1="297.55" y1="261.71" x2="297.55" y2="278.07" stroke="#333" stroke-width="0.9" stroke-linecap="butt"/>
<line x1="295.85" y1="261.71" x2="299.25" y2="261.71" stroke="#333" stroke-width="0.9" stroke-linecap="butt"/>
<rect x="294.60" y="278.07" width="5.90" height="104.83" fill="#1f1f1f"/>
<line x1="304.85" y1="268.04" x2="304.85" y2="276.75" stroke="#333" stroke-width="0.9" stroke-linecap="butt"/>
<line x1="303.15" y1="268.04" x2="306.55" y2="268.04" stroke="#333" stroke-width="0.9" stroke-linecap="butt"/>
<rect x="302.75" y="277.55" width="4.20" height="105.35" fill="#e6e6e6" stroke="#111" stroke-width="1.7"/>
<line x1="301.00" y1="382.90" x2="301.00" y2="388.50" stroke="#1f1f1f" stroke-width="1.2" stroke-linecap="butt"/>
<text x="296.60" y="400.40" font-size="8.0" font-weight="normal" font-style="normal" text-anchor="middle" fill="#262626">0.001</text>
<line x1="318.20" y1="272.45" x2="318.20" y2="287.74" stroke="#333" stroke-width="0.9" stroke-linecap="butt"/>
<line x1="316.50" y1="272.45" x2="319.90" y2="272.45" stroke="#333" stroke-width="0.9" stroke-linecap="butt"/>
<rect x="315.25" y="287.74" width="5.90" height="95.16" fill="#1f1f1f"/>
<line x1="325.50" y1="270.43" x2="325.50" y2="279.86" stroke="#333" stroke-width="0.9" stroke-linecap="butt"/>
<line x1="323.80" y1="270.43" x2="327.20" y2="270.43" stroke="#333" stroke-width="0.9" stroke-linecap="butt"/>
<rect x="323.40" y="280.66" width="4.20" height="102.24" fill="#e6e6e6" stroke="#111" stroke-width="1.7"/>
<line x1="321.65" y1="382.90" x2="321.65" y2="388.50" stroke="#1f1f1f" stroke-width="1.2" stroke-linecap="butt"/>
<text x="319.30" y="400.40" font-size="8.0" font-weight="normal" font-style="normal" text-anchor="middle" fill="#262626">0.005</text>
<line x1="338.85" y1="290.48" x2="338.85" y2="301.11" stroke="#333" stroke-width="0.9" stroke-linecap="butt"/>
<line x1="337.15" y1="290.48" x2="340.55" y2="290.48" stroke="#333" stroke-width="0.9" stroke-linecap="butt"/>
<rect x="335.90" y="301.11" width="5.90" height="81.79" fill="#1f1f1f"/>
<line x1="346.15" y1="272.45" x2="346.15" y2="276.75" stroke="#333" stroke-width="0.9" stroke-linecap="butt"/>
<line x1="344.45" y1="272.45" x2="347.85" y2="272.45" stroke="#333" stroke-width="0.9" stroke-linecap="butt"/>
<rect x="344.05" y="277.55" width="4.20" height="105.35" fill="#e6e6e6" stroke="#111" stroke-width="1.7"/>
<line x1="342.30" y1="382.90" x2="342.30" y2="388.50" stroke="#1f1f1f" stroke-width="1.2" stroke-linecap="butt"/>
<text x="342.00" y="400.40" font-size="8.0" font-weight="normal" font-style="normal" text-anchor="middle" fill="#262626">0.01</text>
<line x1="359.50" y1="309.47" x2="359.50" y2="316.51" stroke="#333" stroke-width="0.9" stroke-linecap="butt"/>
<line x1="357.80" y1="309.47" x2="361.20" y2="309.47" stroke="#333" stroke-width="0.9" stroke-linecap="butt"/>
<rect x="356.55" y="316.51" width="5.90" height="66.39" fill="#1f1f1f"/>
<line x1="366.80" y1="272.45" x2="366.80" y2="281.05" stroke="#333" stroke-width="0.9" stroke-linecap="butt"/>
<line x1="365.10" y1="272.45" x2="368.50" y2="272.45" stroke="#333" stroke-width="0.9" stroke-linecap="butt"/>
<rect x="364.70" y="281.85" width="4.20" height="101.05" fill="#e6e6e6" stroke="#111" stroke-width="1.7"/>
<line x1="362.95" y1="382.90" x2="362.95" y2="388.50" stroke="#1f1f1f" stroke-width="1.2" stroke-linecap="butt"/>
<text x="364.50" y="400.40" font-size="8.0" font-weight="normal" font-style="normal" text-anchor="middle" fill="#262626">0.05</text>
<line x1="380.15" y1="337.53" x2="380.15" y2="341.47" stroke="#333" stroke-width="0.9" stroke-linecap="butt"/>
<line x1="378.45" y1="337.53" x2="381.85" y2="337.53" stroke="#333" stroke-width="0.9" stroke-linecap="butt"/>
<rect x="377.20" y="341.47" width="5.90" height="41.43" fill="#1f1f1f"/>
<line x1="387.45" y1="274.25" x2="387.45" y2="283.08" stroke="#333" stroke-width="0.9" stroke-linecap="butt"/>
<line x1="385.75" y1="274.25" x2="389.15" y2="274.25" stroke="#333" stroke-width="0.9" stroke-linecap="butt"/>
<rect x="385.35" y="283.88" width="4.20" height="99.02" fill="#e6e6e6" stroke="#111" stroke-width="1.7"/>
<line x1="383.60" y1="382.90" x2="383.60" y2="388.50" stroke="#1f1f1f" stroke-width="1.2" stroke-linecap="butt"/>
<text x="384.20" y="400.40" font-size="8.0" font-weight="normal" font-style="normal" text-anchor="middle" fill="#262626">0.1</text>
<line x1="400.80" y1="347.08" x2="400.80" y2="349.11" stroke="#333" stroke-width="0.9" stroke-linecap="butt"/>
<line x1="399.10" y1="347.08" x2="402.50" y2="347.08" stroke="#333" stroke-width="0.9" stroke-linecap="butt"/>
<rect x="397.85" y="349.11" width="5.90" height="33.79" fill="#1f1f1f"/>
<line x1="408.10" y1="281.89" x2="408.10" y2="290.37" stroke="#333" stroke-width="0.9" stroke-linecap="butt"/>
<line x1="406.40" y1="281.89" x2="409.80" y2="281.89" stroke="#333" stroke-width="0.9" stroke-linecap="butt"/>
<rect x="406.00" y="291.17" width="4.20" height="91.73" fill="#e6e6e6" stroke="#111" stroke-width="1.7"/>
<line x1="404.25" y1="382.90" x2="404.25" y2="388.50" stroke="#1f1f1f" stroke-width="1.2" stroke-linecap="butt"/>
<text x="405.00" y="400.40" font-size="8.0" font-weight="normal" font-style="normal" text-anchor="middle" fill="#262626">0.5</text>
<line x1="421.45" y1="358.06" x2="421.45" y2="360.09" stroke="#333" stroke-width="0.9" stroke-linecap="butt"/>
<line x1="419.75" y1="358.06" x2="423.15" y2="358.06" stroke="#333" stroke-width="0.9" stroke-linecap="butt"/>
<rect x="418.50" y="360.09" width="5.90" height="22.81" fill="#1f1f1f"/>
<line x1="428.75" y1="292.04" x2="428.75" y2="301.23" stroke="#333" stroke-width="0.9" stroke-linecap="butt"/>
<line x1="427.05" y1="292.04" x2="430.45" y2="292.04" stroke="#333" stroke-width="0.9" stroke-linecap="butt"/>
<rect x="426.65" y="302.03" width="4.20" height="80.87" fill="#e6e6e6" stroke="#111" stroke-width="1.7"/>
<line x1="424.90" y1="382.90" x2="424.90" y2="388.50" stroke="#1f1f1f" stroke-width="1.2" stroke-linecap="butt"/>
<text x="425.60" y="400.40" font-size="8.0" font-weight="normal" font-style="normal" text-anchor="middle" fill="#262626">1.0</text>
<line x1="442.10" y1="362.84" x2="442.10" y2="364.39" stroke="#333" stroke-width="0.9" stroke-linecap="butt"/>
<line x1="440.40" y1="362.84" x2="443.80" y2="362.84" stroke="#333" stroke-width="0.9" stroke-linecap="butt"/>
<rect x="439.15" y="364.39" width="5.90" height="18.51" fill="#1f1f1f"/>
<line x1="449.40" y1="294.07" x2="449.40" y2="303.86" stroke="#333" stroke-width="0.9" stroke-linecap="butt"/>
<line x1="447.70" y1="294.07" x2="451.10" y2="294.07" stroke="#333" stroke-width="0.9" stroke-linecap="butt"/>
<rect x="447.30" y="304.66" width="4.20" height="78.24" fill="#e6e6e6" stroke="#111" stroke-width="1.7"/>
<line x1="445.55" y1="382.90" x2="445.55" y2="388.50" stroke="#1f1f1f" stroke-width="1.2" stroke-linecap="butt"/>
<text x="445.50" y="400.40" font-size="8.0" font-weight="normal" font-style="normal" text-anchor="middle" fill="#262626">5.0</text>
<line x1="462.75" y1="365.11" x2="462.75" y2="367.14" stroke="#333" stroke-width="0.9" stroke-linecap="butt"/>
<line x1="461.05" y1="365.11" x2="464.45" y2="365.11" stroke="#333" stroke-width="0.9" stroke-linecap="butt"/>
<rect x="459.80" y="367.14" width="5.90" height="15.76" fill="#1f1f1f"/>
<line x1="470.05" y1="293.35" x2="470.05" y2="309.47" stroke="#333" stroke-width="0.9" stroke-linecap="butt"/>
<line x1="468.35" y1="293.35" x2="471.75" y2="293.35" stroke="#333" stroke-width="0.9" stroke-linecap="butt"/>
<rect x="467.95" y="310.27" width="4.20" height="72.63" fill="#e6e6e6" stroke="#111" stroke-width="1.7"/>
<line x1="466.20" y1="382.90" x2="466.20" y2="388.50" stroke="#1f1f1f" stroke-width="1.2" stroke-linecap="butt"/>
<text x="467.50" y="400.40" font-size="8.0" font-weight="normal" font-style="normal" text-anchor="middle" fill="#262626">10.0</text>
<text transform="translate(263.20,320.40) rotate(-90)" font-size="10.1" font-weight="bold" text-anchor="middle" fill="#1a1a1a" stroke="#1a1a1a" stroke-width="0.3">Viability, %</text>
<text x="384.00" y="424.00" font-size="9.7" font-weight="bold" font-style="normal" text-anchor="middle" fill="#1a1a1a" stroke="#1a1a1a" stroke-width="0.22">Aza-T-dCyd  (<tspan font-weight="normal" font-family="'Liberation Serif', 'DejaVu Serif', serif">μ</tspan>M)</text>
<text x="395.50" y="255.50" font-size="8.3" font-weight="normal" font-style="normal" text-anchor="start" fill="#2a2a2a" textLength="18.8" lengthAdjust="spacingAndGlyphs" stroke="#2a2a2a" stroke-width="0.15">TET2</text>
<text x="414.00" y="256.40" font-size="12.5" font-weight="normal" font-style="normal" text-anchor="start" fill="#2a2a2a">↑</text>
<text x="399.00" y="266.30" font-size="7.8" font-weight="normal" font-style="normal" text-anchor="start" fill="#2a2a2a" stroke="#2a2a2a" stroke-width="0.15">p16<tspan font-size="5.6" dy="-0.6">+</tspan></text>
<line x1="408.20" y1="270.20" x2="408.20" y2="274.90" stroke="#222" stroke-width="1.1" stroke-linecap="butt"/>
<polygon points="405.50,274.40 410.90,274.40 408.20,278.80" fill="#222"/>
<rect x="477.60" y="252.30" width="14.70" height="8.60" fill="#1f1f1f"/>
<rect x="478.60" y="268.70" width="12.70" height="6.70" fill="#d4d4d4" stroke="#111" stroke-width="2.0"/>
<text transform="translate(499.20,261.00) scale(0.91,1)" font-size="10.5" font-weight="normal" font-style="normal" text-anchor="start" fill="#1a1a1a" stroke="#1a1a1a" stroke-width="0.12">DNMT1<tspan font-size="7.8" dy="-3.8">+/+</tspan></text>
<text transform="translate(499.20,276.60) scale(0.91,1)" font-size="10.5" font-weight="normal" font-style="normal" text-anchor="start" fill="#1a1a1a" stroke="#1a1a1a" stroke-width="0.12">DNMT1<tspan font-size="7.8" dy="-3.8">-/-</tspan></text>
</svg>
</body>
</html>
